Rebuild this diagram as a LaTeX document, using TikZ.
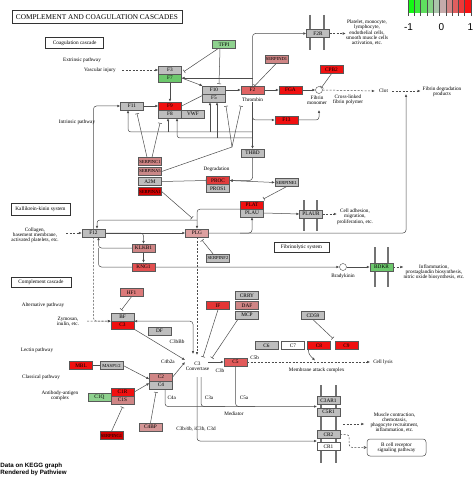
\documentclass[tikz,border=0pt]{standalone}
\usepackage{fontspec}
\setmainfont{Liberation Serif}
\newfontfamily\legfont{Liberation Sans}
\usetikzlibrary{arrows.meta,backgrounds,calc}
\definecolor{cgray}{HTML}{BEBEBE}
\definecolor{cgreen}{HTML}{6CC86C}
\definecolor{cgreenl}{HTML}{8ED18E}
\definecolor{cred}{HTML}{F01010}
\definecolor{cdred}{HTML}{D00000}
\definecolor{cF2}{HTML}{E06262}
\definecolor{cPROC}{HTML}{E23C3C}
\definecolor{cpink}{HTML}{CF8585}
\definecolor{cpink2}{HTML}{C98888}
\definecolor{cPLG}{HTML}{DDA0A0}
\definecolor{cKNG}{HTML}{E25050}
\definecolor{cIF}{HTML}{E53535}
\definecolor{cC5}{HTML}{E25A5A}
\definecolor{cHF}{HTML}{DC7A7A}
\definecolor{cC4BP}{HTML}{D49696}
\definecolor{pgreen}{rgb}{0,1,0}
\definecolor{pred}{rgb}{1,0,0}
\begin{document}
\begin{tikzpicture}[x=1pt,y=-1pt,
  gene/.style={draw=black!65, line width=0.35pt, minimum width=23pt, minimum height=8pt, inner sep=0pt, font=\fontsize{5.3}{5.3}\selectfont},
  longname/.style={font=\fontsize{4.6}{4.6}\selectfont},
  lbl/.style={font=\fontsize{5.2}{5.2}\selectfont, align=center, inner sep=0pt},
  ln/.style={draw=black!70, line width=0.5pt},
  act/.style={ln, -{Latex[length=3pt,width=2.6pt]}},
  both/.style={ln, {Latex[length=3pt,width=2.6pt]}-{Latex[length=3pt,width=2.6pt]}},
  inh/.style={ln, -{Bar[width=4pt]}},
  dsh/.style={dash pattern=on 2pt off 1.5pt},
  tbox/.style={draw=black!80, line width=0.5pt, inner sep=0pt, font=\fontsize{5.3}{5.3}\selectfont},
  mbar/.style={draw=black!55, line width=1.6pt},
  circ/.style={circle, draw=black!70, fill=white, minimum size=7pt, inner sep=0pt, line width=0.4pt},
]
\useasboundingbox (0,0) rectangle (474,478);

% ---------- title and legend
\node[tbox, line width=1pt, minimum width=170pt, minimum height=13pt, font=\fontsize{7.3}{7.3}\selectfont] (title) at (97,17.5) {COMPLEMENT AND COAGULATION CASCADES};
\foreach \j/\col in {0/pgreen!90!cgray,1/pgreen!70!cgray,2/pgreen!50!cgray,3/pgreen!30!cgray,4/pgreen!10!cgray,5/pred!10!cgray,6/pred!30!cgray,7/pred!50!cgray,8/pred!70!cgray,9/pred!90!cgray}
  {\fill[\col] (408+\j*6.3,0) rectangle (408+\j*6.3+6.3,13);}
\foreach \j in {0,...,10} {\draw[black!70, line width=0.6pt] (408+\j*6.3,0) -- (408+\j*6.3,16);}
\node[font=\legfont\fontsize{10}{10}\selectfont, inner sep=0pt] (lm) at (408.5,27) {-1};
\node[font=\legfont\fontsize{10}{10}\selectfont, inner sep=0pt] (l0) at (441.5,27) {0};
\node[font=\legfont\fontsize{10}{10}\selectfont, inner sep=0pt] (lp) at (470.5,27) {1};

% ---------- coagulation nodes
\node[tbox, minimum width=58pt, minimum height=11pt] (coag) at (74.7,43) {Coagulation cascade};
\node[gene,fill=cgray] (F3) at (170,70) {F3};
\node[gene,fill=cgreen] (F7) at (170,78) {F7};
\node[gene,fill=cred] (F9) at (170,106) {F9};
\node[gene,fill=cgray] (F8) at (170,114) {F8};
\node[gene,fill=cgray] (VWF) at (193,114) {VWF};
\node[gene,fill=cgray] (F11) at (132,106) {F11};
\node[gene,fill=cgray] (F10) at (214,90) {F10};
\node[gene,fill=cgray] (F5) at (214,98) {F5};
\node[gene,fill=cF2] (F2) at (252.5,90) {F2};
\node[gene,fill=cred] (FGA) at (290.5,90) {FGA};
\node[gene,fill=cred] (F13) at (286.5,120) {F13};
\node[gene,fill=cred] (CPB2) at (331.5,69.5) {CPB2};
\node[gene,longname,fill=cpink] (SERPIND1) at (276.5,59) {SERPIND1};
\node[gene,fill=cgreenl] (TFPI) at (224,44.5) {TFPI};
\node[gene,fill=cgray] (F2R) at (318,33.5) {F2R};
\node[gene,fill=cgray] (THBD) at (252.5,153) {THBD};
\node[gene,fill=cPROC] (PROC) at (218,180.5) {PROC};
\node[gene,fill=cgray] (PROS1) at (218,188.5) {PROS1};
\node[gene,longname,fill=cgray] (SERPINE1) at (286.5,182.5) {SERPINE1};
\node[gene,longname,fill=cpink] (SERPINC1) at (150,161.5) {SERPINC1};
\node[gene,longname,fill=cpink2] (SERPINA5) at (150,171.5) {SERPINA5};
\node[gene,fill=cgray] (A2M) at (150,181.5) {A2M};
\node[gene,longname,fill=cdred] (SERPINA1) at (150,191.5) {SERPINA1};
\node[gene,fill=cred] (PLAT) at (252,205) {PLAT};
\node[gene,fill=cgray] (PLAU) at (252,213) {PLAU};
\node[gene,fill=cgray] (PLAUR) at (311,214) {PLAUR};
\node[gene,fill=cPLG] (PLG) at (197,233) {PLG};
\node[gene,longname,fill=cgray] (SERPINF2) at (218,258) {SERPINF2};
\node[gene,fill=cgray] (F12) at (93.5,233) {F12};
\node[gene,fill=cpink] (KLKB1) at (143.5,248) {KLKB1};
\node[gene,fill=cKNG] (KNG1) at (143.5,267) {KNG1};
\node[gene,fill=cgreen] (BDKR) at (381.5,267) {BDKR};
\node[circ] (fm) at (319,90) {};
\node[circ] (bk) at (343,267) {};

\node[lbl] (extr) at (82,60.5) {Extrinsic pathway};
\node[lbl] (vasc) at (100,70) {Vascular injury};
\node[lbl] (intr) at (77,122) {Intrinsic pathway};
\node[lbl] (thr) at (252.5,100) {Thrombin};
\node[lbl] (fml) at (317,100) {Fibrin\\monomer};
\node[lbl] (xl) at (348,100) {Cross-linked\\fibrin polymer};
\node[lbl, inner xsep=4pt] (clot) at (383.5,91) {Clot};
\node[lbl, inner xsep=2pt] (fdp) at (442,92) {Fibrin degradation\\products};
\node[lbl] (plat) at (367,32.7) {Platelet, monocyte,\\lymphocyte,\\endothelial cells,\\smooth muscle cells\\activation, etc.};
\node[lbl] (degr) at (216.5,169) {Degradation};
\node[lbl] (adh) at (355,216.7) {Cell adhesion,\\migration,\\proliferation, etc.};
\node[tbox, minimum width=55pt, minimum height=10pt] (fib) at (301.5,247) {Fibrinolytic system};
\node[lbl] (bkl) at (343,276) {Bradykinin};
\node[lbl] (infl) at (434,272) {Inflammation,\\prostaglandin biosynthesis,\\nitric oxide biosynthesis, etc.};
\node[tbox, minimum width=59pt, minimum height=12pt] (kal) at (40.5,209) {Kallikrein-kinin system};
\node[lbl] (coll) at (35,235.5) {Collagen,\\basement membrane,\\activated platelets, etc.};

% ---------- complement nodes
\node[tbox, minimum width=60pt, minimum height=10pt] (compl) at (41,282.7) {Complement cascade};
\node[gene,fill=cHF] (HF1) at (131.5,292.5) {HF1};
\node[gene,fill=cgray] (BF) at (122.5,317) {BF};
\node[gene,fill=cred] (C3) at (122.5,325) {C3};
\node[gene,fill=cgray] (DF) at (159.5,331) {DF};
\node[gene,fill=cIF] (IF) at (218,305.5) {IF};
\node[gene,fill=cgray] (CRRY) at (247,295.5) {CRRY};
\node[gene,fill=cpink] (DAF) at (247,305.5) {DAF};
\node[gene,fill=cgray] (MCP) at (247,315) {MCP};
\node[gene,fill=cgray] (CD59) at (313,315.5) {CD59};
\node[gene,fill=cgray] (C6) at (266.5,345.5) {C6};
\node[gene,fill=white] (C7) at (293,345.5) {C7};
\node[gene,fill=cred] (C8) at (319,345.5) {C8};
\node[gene,fill=cred] (C9) at (346.5,345.5) {C9};
\node[gene,fill=cC5] (C5) at (235.5,362) {C5};
\node[gene,fill=cpink] (C2) at (161,377) {C2};
\node[gene,fill=cgray] (C4) at (161,385) {C4};
\node[gene,fill=cred] (MBL) at (81,365.5) {MBL};
\node[gene,longname,fill=cgray] (MASP) at (111.5,365.5) {MASP1/2};
\node[gene,fill=cred] (C1R) at (122.5,392) {C1R};
\node[gene,fill=cpink] (C1S) at (122.5,400) {C1S};
\node[gene,fill=cgreenl] (C1Q) at (99.5,397) {C1Q};
\node[gene,longname,fill=cdred] (SERPING1) at (111.5,435.5) {SERPING1};
\node[gene,fill=cC4BP] (C4BP) at (150.5,427) {C4BP};
\node[gene,fill=cgray] (C3AR1) at (328.5,400.5) {C3AR1};
\node[gene,fill=cgray] (C5R1) at (328.5,412) {C5R1};
\node[gene,fill=cgray] (CR2) at (328.5,434.5) {CR2};
\node[gene,fill=white] (CR1) at (328.5,446.5) {CR1};

\node[lbl] (alt) at (43,305) {Alternative pathway};
\node[lbl] (zym) at (68,322) {Zymosan,\\inulin, etc.};
\node[lbl] (lect) at (37,350) {Lectin pathway};
\node[lbl] (class) at (41,377) {Classical pathway};
\node[lbl] (abag) at (60,396) {Antibody-antigen\\complex};
\node[lbl] (c3bbb) at (177,342) {C3bBb};
\node[lbl] (c4b2a) at (168,362) {C4b2a};
\node[lbl] (conv) at (197.5,366) {C3\\Convertase};
\node[lbl] (c3bl) at (220,370.5) {C3b};
\node[lbl] (c5bl) at (254.7,357.7) {C5b};
\node[lbl] (macl) at (316.7,370) {Membrane attack complex};
\node[lbl, inner xsep=3pt] (lysis) at (383,362) {Cell lysis};
\node[lbl] (c4al) at (171.7,397.7) {C4a};
\node[lbl] (c3al) at (209,397.7) {C3a};
\node[lbl] (c5al) at (244,397.7) {C5a};
\node[lbl] (medl) at (234,413.3) {Mediator};
\node[lbl] (c3dl) at (196,429.3) {C3b/4b, iC3b, C3d};
\node[lbl] (musc) at (394.5,422.5) {Muscle contraction,\\chemotaxis,\\phagocyte recruitment,\\inflammation, etc.};
\node[draw=black!70, line width=0.5pt, rounded corners=3pt, minimum width=59pt, minimum height=17pt, lbl] (bcell) at (396.5,447.5) {B cell receptor\\signaling pathway};
\node[font=\legfont\bfseries\fontsize{6.2}{7.6}\selectfont, align=left, inner sep=0pt, anchor=north west] (credit) at (0.3,462.5) {Data on KEGG graph\\Rendered by Pathview};

% ---------- connectors
\begin{pgfonlayer}{background}
\fill[white] (0,0) rectangle (474,478);
\draw[mbar] (310,15) -- (310,50); \draw[mbar] (324,15) -- (324,50);
\draw[mbar] (304,200) -- (304,231); \draw[mbar] (317,200) -- (317,231);
\draw[mbar] (375,247) -- (375,287); \draw[mbar] (388,247) -- (388,287);
\draw[mbar] (321,385) -- (321,463); \draw[mbar] (336,385) -- (336,463);

\coordinate (vi) at (122,70);
\draw[act,dsh] (vi) -- (F3.west);
\draw[act] (F7.south) -- (F9.north);
\draw[act] (F7.east) -- (F10.160);
\draw[act] (F9.east) -- (F10.205);
\draw[act] (F10.east) -- (F2.west);
\draw[act] (F2.east) -- (FGA.west);
\draw[act] (FGA.east) -- (fm.west);
\draw[act] (F11.east) -- (F9.west);
\draw[act,rounded corners=3] (F12.north) |- (F11.west);
\draw[act,rounded corners=3] (F2.north) |- (F2R.west);
\draw[act] (F2.north |- F7.east) -- (F7.east);
\draw[act,dsh] (F2R.east) -- (plat.west |- F2R.east);
\draw[inh] (SERPIND1.south) -- (F2.62);
\coordinate (tf1) at (184,71.5);
\coordinate (tf2) at (219,84);
\draw[inh] (TFPI.215) -- (tf1);
\draw[inh] ([xshift=-4pt]TFPI.south) -- (tf2);
\draw[inh] (CPB2.south) -- (fm.45);
\draw[act,dsh] (fm.east) -- (clot.west);
\draw[act,dsh] (clot.east) -- (fdp.west |- clot.east);
\coordinate (f13a) at (319,110);
\draw[act,rounded corners=3] (F13.east) -| (f13a);
\draw[act] (thr.south) -- (THBD.north);
\coordinate (b13) at (252.5,112);
\draw[act,rounded corners=3] (b13) |- (F13.west);
\draw[act,rounded corners=3] (THBD.south) |- (PROC.east);
\draw[both] (PROC.east) -- (SERPINE1.west);
\draw[inh] (SERPINE1.south) -- ([yshift=2pt]PLAT.north east);
\draw[act] (PLAU.east) -- (PLAUR.west);
\draw[act,dsh] (PLAUR.east) -- (adh.west |- PLAUR.east);

% thrombin feedback
\coordinate (th1) at (252.5,132);
\coordinate (th2) at (252.5,138);
\coordinate (f8a) at ([xshift=-2pt]F8.south);
\coordinate (f5a) at ([xshift=-4pt]F5.south);
\coordinate (f5b) at ([xshift=3pt]F5.south);
\draw[act,rounded corners=3] (th1) -| ([xshift=-4pt]F11.south);
\draw[act,rounded corners=3] (th2) -| ([xshift=7pt]F8.south);
\draw[act] (f8a |- th1) -- (f8a);
\draw[act] (f5a |- th1) -- (f5a);
\draw[act] (f5b |- th2) -- (f5b);

% serpins
\coordinate (i11) at (137,113.5);
\coordinate (i9) at (160,123);
\draw[inh] ([xshift=-3pt]SERPINC1.north) -- (i11);
\draw[inh] ([xshift=2pt]SERPINC1.north) -- (i9);
\coordinate (fk) at (232,147);
\coordinate (i5) at (226,106);
\coordinate (i2) at (241,106);
\draw[ln] (SERPINA5.east) -- (fk);
\draw[inh] (fk) -- (i5);
\draw[inh] (fk) -- (i2);
\draw[inh] (A2M.east) -- (PROC.west);
\coordinate (ipl) at (192,218);
\draw[inh] (SERPINA1.east) -- (ipl);

% plasminogen / kallikrein
\draw[act,rounded corners=3] (PLAT.south west) -| (PLG.north);
\coordinate (jp) at (197,220);
\draw[act,rounded corners=3] (jp) -| ([xshift=3.5pt]F12.north);
\draw[act] (F12.east) -- (PLG.west);
\draw[act,rounded corners=3] (F12.east) -| (KLKB1.north);
\draw[act] (KLKB1.south) -- (KNG1.north);
\draw[act,rounded corners=3] (KLKB1.west) -| ([xshift=5pt]F12.south);
\coordinate (k1) at (98.5,248);
\draw[act,rounded corners=3] (k1) |- (bk.west);
\draw[act] (bk.east) -- (BDKR.west);
\draw[act,dsh] (BDKR.east) -- (infl.west |- BDKR.east);
\coordinate (co0) at (66,233);
\draw[act,dsh] (co0) -- (F12.west);
\draw[inh] ([xshift=-5pt]SERPINF2.north) -- ([xshift=5pt,yshift=-3pt]PLG.south);
\coordinate (fd) at (406,94);
\draw[act,rounded corners=3] (PLG.east) -| (fd);
\coordinate (pb) at (240,233);
\draw[act,rounded corners=3] (pb) -| (PLAU.south);
\coordinate (cvt2) at (197,355);
\draw[act,dsh] (PLG.south) -- (cvt2);

% complement
\draw[inh] (HF1.south) -- ([xshift=-1pt,yshift=3pt]BF.north);
\coordinate (cvt1) at (193,354);
\draw[both,rounded corners=3] (BF.south east) -| (cvt1);
\coordinate (zy) at (87,321);
\draw[act,dsh] (zy) -- (BF.south west);
\draw[act,dsh,rounded corners=3] (F12.south) |- (BF.south west);
\coordinate (cvin) at (185,360);
\coordinate (cvin2) at (185,362);
\draw[act] (C3.south east) -- (cvin);
\draw[act] (C2.east) -- (cvin2);
\coordinate (iif) at (203,357);
\coordinate (imc) at (212,358);
\draw[inh] (IF.south) -- (iif);
\draw[inh] ([xshift=-9pt]MCP.south) -- (imc);
\coordinate (cvo) at (208,362);
\draw[act] (cvo) -- (C5.west);
\draw[act,dsh] (C5.east) -- (lysis.west);
\coordinate (mac) at (315,360.5);
\draw[act] ([xshift=1pt]C8.south west) to[out=270,in=135] (mac);
\draw[inh] (CD59.south) -- ([xshift=-2pt,yshift=3pt]C9.north west);
\draw[ln] (MBL.east) -- (MASP.west);
\draw[act] (MASP.east) -- ([yshift=2pt]C2.south west);
\draw[act] (C1R.east) -- ([yshift=-2pt]C2.south west);
\draw[inh] (SERPING1.north) -- ([yshift=-3pt]C1S.south);
\draw[inh] (C4BP.north) -- ([xshift=-5pt,yshift=-3pt]C4.south);
\coordinate (ar1) at (317,406.5);
\coordinate (ar2) at (317,441);
\coordinate (c4d) at ([xshift=4pt]C4.south);
\draw[act,rounded corners=3] (c4d) |- (ar1);
\coordinate (c3aa) at (201,377);
\coordinate (c3aj) at (225,406.5);
\draw[ln,rounded corners=3] (c3aa) |- (c3aj);
\coordinate (c5aj) at (255,406.5);
\draw[ln,rounded corners=3] (C5.south) |- (c5aj);
\coordinate (c3bb) at (197,377);
\draw[act,rounded corners=3] (c3bb) |- (ar2);
\coordinate (mc0) at (343,424);
\draw[act,dsh] (mc0) -- ([xshift=-6pt,yshift=-1.5pt]musc.west);
\draw[ln,dsh,-{Triangle[open,length=3pt,width=3pt]},rounded corners=3] (CR2.east) -- ++(9,0) |- (bcell.west);
\end{pgfonlayer}
\end{tikzpicture}
\end{document}
